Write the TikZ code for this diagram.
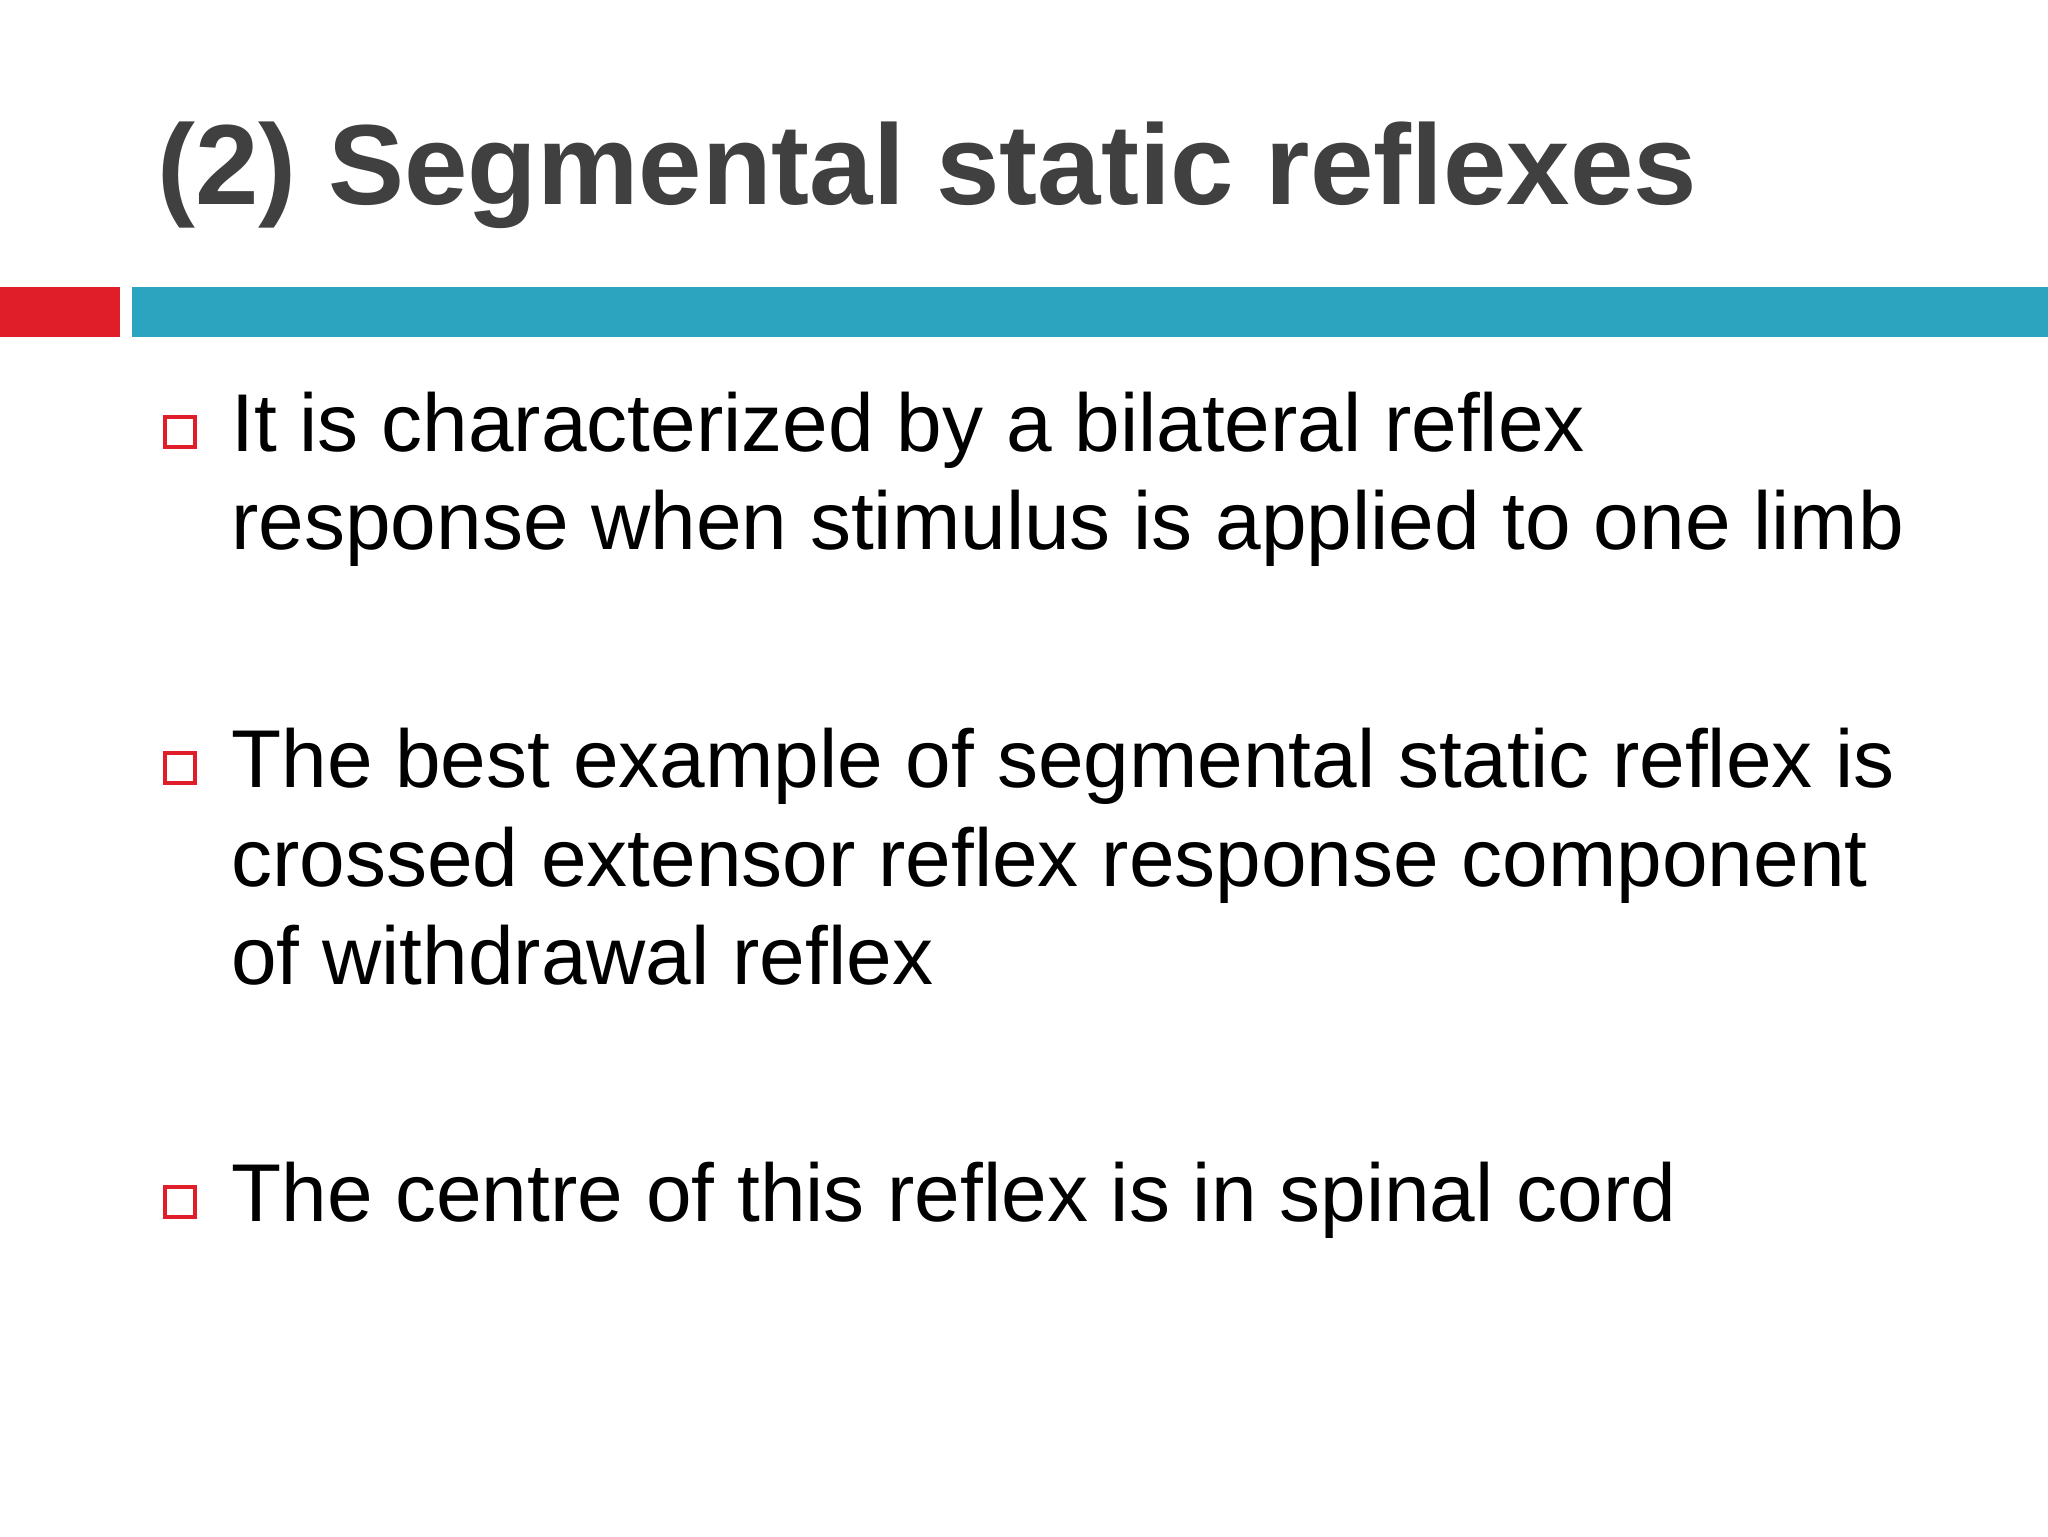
\documentclass[tikz,border=0pt]{standalone}
\usepackage{fontspec}
\setmainfont{Liberation Sans}
\definecolor{titlegray}{HTML}{404040}
\definecolor{barred}{HTML}{E01E2A}
\definecolor{barblue}{HTML}{2CA3BF}
\begin{document}
\begin{tikzpicture}[x=0.5pt,y=-0.5pt,
  body/.style={anchor=base west,inner sep=0pt,font=\fontsize{41}{49}\selectfont},
  bul/.style={draw=barred,line width=1.6pt}]
\useasboundingbox[fill=white] (0,0) rectangle (2048,1536);
\node[anchor=base west,inner sep=0pt,text=titlegray,font=\fontsize{57}{64}\selectfont\bfseries] (title) at (157,204) {(2) Segmental static reflexes};
\fill[barred] (0,287) rectangle (120,337);
\fill[barblue] (132,287) rectangle (2048,337);
\draw[bul] (165,417) rectangle (195,447);
\node[body] (b1a) at (231,451) {It is characterized by a bilateral reflex};
\node[body] (b1b) at (231,549) {response when stimulus is applied to one limb};
\draw[bul] (165,753) rectangle (195,783);
\node[body] (b2a) at (231,787) {The best example of segmental static reflex is};
\node[body] (b2b) at (231,886) {crossed extensor reflex response component};
\node[body] (b2c) at (231,984) {of withdrawal reflex};
\draw[bul] (165,1187) rectangle (195,1217);
\node[body] (b3) at (231,1221) {The centre of this reflex is in spinal cord};
\end{tikzpicture}
\end{document}
